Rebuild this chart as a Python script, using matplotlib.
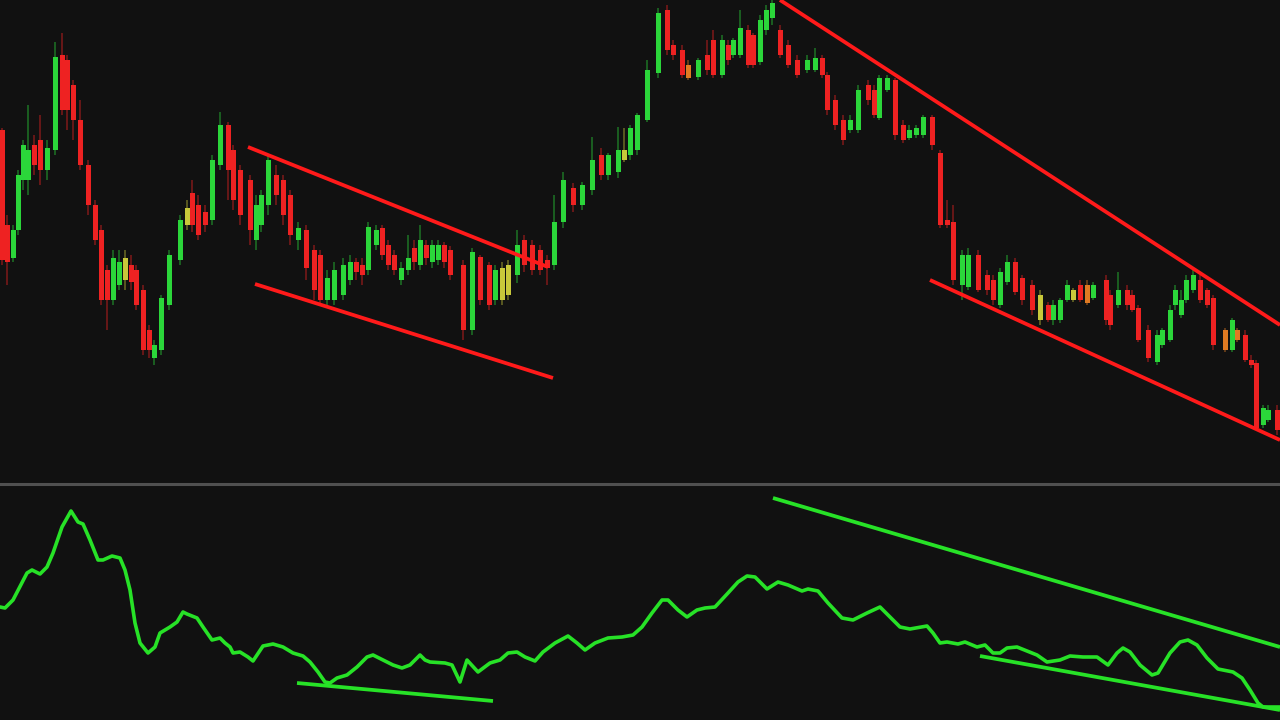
import numpy as np
import matplotlib
matplotlib.use("Agg")
import matplotlib.pyplot as plt

bar_time = [2, 7, 13, 18, 23, 28, 34, 40, 47, 55, 62, 67, 73, 80, 88, 95, 101, 107, 113, 119,
            125, 131, 136, 143, 149, 154, 161, 169, 180, 187, 192, 198, 205, 212, 220, 228, 233, 240, 250, 256,
            261, 268, 276, 283, 290, 298, 306, 314, 320, 327, 334, 343, 350, 356, 362, 368, 376, 382, 388, 394,
            401, 408, 414, 420, 426, 432, 438, 444, 450, 463, 472, 480, 489, 495, 502, 508, 517, 524, 532, 540,
            547, 554, 563, 573, 582, 592, 601, 608, 618, 624, 630, 637, 647, 658, 667, 673, 682, 688, 698, 707,
            713, 722, 728, 733, 740, 748, 753, 760, 766, 772, 780, 788, 797, 807, 815, 822, 827, 835, 843, 850,
            858, 868, 874, 879, 887, 895, 903, 909, 916, 923, 932, 940, 947, 953, 962, 968, 978, 987, 993, 1000,
            1007, 1015, 1022, 1032, 1040, 1048, 1053, 1060, 1067, 1073, 1080, 1087, 1093, 1106, 1110, 1118, 1127, 1132, 1138, 1148,
            1157, 1162, 1170, 1175, 1181, 1186, 1193, 1200, 1207, 1213, 1225, 1232, 1237, 1245, 1251, 1256, 1263, 1268, 1277]

lvl_open = [130, 225, 258, 230, 180, 180, 145, 140, 170, 150, 55, 60, 85, 120, 165, 205, 230, 270, 300, 285,
            280, 265, 270, 290, 330, 358, 350, 305, 260, 225, 193, 205, 212, 220, 165, 125, 150, 170, 180, 240,
            225, 205, 175, 180, 195, 240, 230, 250, 255, 300, 300, 295, 280, 262, 265, 270, 245, 228, 245, 255,
            280, 270, 248, 265, 245, 262, 260, 245, 250, 265, 330, 257, 265, 300, 300, 295, 275, 240, 245, 250,
            260, 265, 222, 188, 205, 190, 155, 175, 172, 160, 155, 150, 120, 73, 10, 45, 50, 65, 77, 55,
            40, 75, 45, 55, 55, 30, 35, 62, 30, 18, 30, 45, 60, 70, 70, 58, 75, 100, 120, 130,
            130, 85, 90, 118, 90, 80, 125, 138, 135, 135, 117, 153, 220, 222, 285, 287, 255, 275, 280, 305,
            282, 262, 278, 285, 320, 305, 320, 320, 300, 300, 285, 285, 298, 280, 295, 305, 290, 295, 308, 330,
            362, 345, 340, 305, 315, 300, 290, 280, 290, 298, 330, 350, 330, 335, 360, 363, 425, 420, 410]

lvl_close = [260, 262, 230, 175, 145, 150, 165, 170, 148, 57, 110, 110, 120, 165, 205, 240, 300, 300, 258, 262,
             258, 282, 305, 350, 350, 345, 298, 255, 220, 208, 225, 235, 225, 160, 125, 170, 200, 215, 230, 205,
             195, 160, 195, 215, 235, 228, 268, 290, 300, 278, 270, 265, 262, 272, 275, 227, 230, 255, 265, 270,
             268, 258, 262, 240, 258, 245, 245, 262, 275, 330, 252, 300, 305, 270, 268, 265, 245, 265, 270, 270,
             268, 222, 180, 205, 185, 160, 175, 155, 150, 150, 128, 115, 70, 13, 50, 55, 75, 78, 60, 70,
             75, 40, 60, 40, 28, 65, 65, 20, 10, 3, 55, 65, 75, 60, 58, 75, 110, 125, 140, 120,
             90, 100, 115, 78, 78, 135, 140, 130, 128, 117, 145, 225, 225, 280, 255, 255, 290, 290, 300, 272,
             262, 292, 300, 310, 295, 320, 305, 300, 285, 290, 300, 303, 285, 320, 325, 290, 305, 310, 340, 358,
             335, 330, 310, 290, 300, 280, 275, 300, 305, 345, 350, 320, 340, 360, 365, 428, 408, 410, 430]

lvl_high = [128, 215, 225, 170, 140, 105, 135, 115, 140, 42, 33, 55, 80, 100, 160, 200, 225, 265, 250, 250,
            250, 255, 265, 285, 325, 340, 295, 250, 215, 200, 180, 195, 205, 155, 112, 122, 145, 165, 175, 195,
            190, 155, 165, 175, 190, 222, 225, 245, 250, 270, 262, 258, 255, 258, 258, 222, 225, 225, 240, 250,
            262, 235, 240, 225, 240, 240, 240, 242, 246, 260, 248, 255, 262, 265, 262, 260, 230, 235, 240, 245,
            255, 195, 172, 183, 182, 137, 148, 153, 127, 128, 125, 113, 60, 8, 5, 40, 45, 60, 58, 40,
            30, 35, 40, 38, 10, 25, 33, 15, 5, 0, 25, 40, 55, 55, 48, 55, 72, 95, 115, 115,
            85, 80, 85, 75, 75, 78, 120, 125, 125, 115, 115, 150, 200, 205, 250, 248, 250, 270, 275, 268,
            255, 258, 275, 280, 290, 302, 300, 298, 280, 288, 280, 280, 282, 275, 290, 272, 285, 290, 305, 325,
            330, 328, 305, 285, 290, 275, 270, 275, 288, 295, 328, 318, 328, 330, 355, 360, 405, 405, 405]

lvl_low = [265, 285, 262, 235, 190, 195, 175, 185, 180, 155, 115, 130, 140, 170, 215, 245, 305, 330, 305, 290,
           290, 290, 310, 355, 358, 365, 355, 310, 265, 230, 232, 240, 232, 225, 170, 200, 210, 225, 245, 250,
           232, 215, 205, 225, 245, 250, 280, 300, 305, 305, 305, 300, 285, 280, 285, 275, 250, 260, 270, 275,
           285, 275, 270, 270, 265, 268, 265, 268, 280, 340, 335, 305, 310, 305, 305, 300, 283, 272, 275, 275,
           285, 270, 228, 212, 210, 195, 180, 180, 178, 162, 160, 155, 122, 78, 55, 60, 78, 80, 80, 75,
           78, 78, 65, 58, 58, 68, 68, 65, 35, 25, 58, 68, 78, 73, 72, 78, 115, 130, 145, 133,
           133, 105, 118, 120, 92, 140, 143, 140, 138, 138, 150, 228, 228, 285, 300, 290, 292, 295, 305, 308,
           285, 295, 305, 315, 325, 322, 325, 323, 302, 302, 302, 305, 300, 325, 330, 308, 310, 312, 342, 362,
           365, 348, 342, 310, 318, 303, 293, 303, 308, 350, 352, 352, 342, 362, 368, 430, 428, 422, 435]

# candles drawn in yellow / orange tones
yellow_bars = [20, 29, 74, 75, 89, 144, 149]
orange_bars = [97, 151, 170, 172]

# ---- indicator line (bottom panel) ----
ind_time = [0, 5, 13, 27, 32, 40, 47, 53, 62, 71, 78, 83, 90, 98, 103, 112, 120, 125, 130, 135,
            140, 148, 155, 160, 170, 177, 183, 187, 197, 203, 212, 220, 225, 230, 233, 240, 248, 253, 263, 273,
            283, 293, 303, 310, 318, 325, 330, 337, 347, 357, 367, 373, 383, 393, 402, 410, 417, 420, 425, 430,
            445, 452, 460, 467, 478, 490, 500, 508, 517, 525, 535, 543, 555, 568, 577, 585, 595, 608, 622, 633,
            642, 652, 662, 668, 678, 687, 697, 705, 715, 728, 738, 747, 755, 767, 778, 788, 802, 808, 818, 828,
            842, 853, 867, 880, 888, 900, 910, 927, 933, 940, 947, 958, 965, 977, 985, 993, 1000, 1007, 1017, 1027,
            1037, 1047, 1060, 1070, 1083, 1097, 1108, 1117, 1123, 1130, 1140, 1152, 1158, 1170, 1180, 1188, 1197, 1207, 1218, 1233,
            1242, 1250, 1258, 1263, 1272, 1280]
ind_lvl = [607, 608, 600, 573, 570, 574, 567, 553, 527, 511, 522, 524, 540, 560, 560, 556, 558, 570, 590, 623,
           643, 653, 647, 633, 627, 622, 612, 614, 618, 627, 640, 638, 643, 647, 653, 652, 657, 661, 646, 644,
           647, 653, 656, 662, 672, 682, 683, 678, 675, 667, 657, 655, 660, 665, 668, 665, 658, 655, 660, 662,
           663, 665, 682, 660, 672, 663, 660, 653, 652, 657, 661, 652, 643, 636, 643, 650, 643, 638, 637, 635,
           627, 613, 600, 600, 610, 617, 610, 608, 607, 593, 582, 576, 577, 589, 582, 585, 591, 589, 591, 603,
           618, 620, 613, 607, 615, 627, 629, 626, 633, 643, 642, 644, 642, 647, 645, 653, 653, 648, 647, 651,
           655, 662, 660, 656, 657, 657, 665, 653, 648, 652, 665, 675, 673, 653, 642, 640, 645, 658, 669, 672,
           678, 690, 703, 707, 707, 707]

# ---- trend lines ----
red_lines = [((248, 147), (548, 267)), ((255, 284), (553, 378)),
             ((780, 0), (1280, 325)), ((930, 280), (1280, 440))]
green_lines = [((297, 683), (493, 701)), ((773, 498), (1280, 647)), ((980, 656), (1280, 710))]

# convert measured levels to price / indicator values (higher = up)
TOP_REF = 484.0
BOT_REF = 720.0
t = np.array(bar_time, float)
o = TOP_REF - np.array(lvl_open, float)
c = TOP_REF - np.array(lvl_close, float)
h = TOP_REF - np.array(lvl_high, float)
l = TOP_REF - np.array(lvl_low, float)
ind_x = np.array(ind_time, float)
ind_y = BOT_REF - np.array(ind_lvl, float)

BG = "#111111"
GREEN = "#2bd63a"
RED = "#ee2222"
YELLOW = "#c8c83a"
ORANGE = "#e07a22"

fig = plt.figure(figsize=(12.8, 7.2), dpi=100, facecolor=BG)
ax = fig.add_axes([0, 1 - 482 / 720, 1, 482 / 720])
ax2 = fig.add_axes([0, 0, 1, 231 / 720])
for a in (ax, ax2):
    a.set_facecolor(BG)
    a.set_axis_off()

colors = []
for i in range(len(t)):
    if i in yellow_bars:
        colors.append(YELLOW)
    elif i in orange_bars:
        colors.append(ORANGE)
    elif c[i] >= o[i]:
        colors.append(GREEN)
    else:
        colors.append(RED)

ax.vlines(t, l, h, colors=colors, linewidth=1.1, alpha=0.5, zorder=2)
body_bottom = np.minimum(o, c)
body_h = np.maximum(np.abs(c - o), 2.0)
ax.bar(t, body_h, bottom=body_bottom, width=5.0, color=colors, linewidth=0, zorder=3)

for (x0, y0), (x1, y1) in red_lines:
    ax.plot([x0, x1], [TOP_REF - y0, TOP_REF - y1], color="#ff1a1a", linewidth=2.7,
            solid_capstyle="butt", zorder=4)

ax.set_xlim(0, 1280)
ax.set_ylim(TOP_REF - 482, TOP_REF)

ax2.plot(ind_x, ind_y, color="#27e227", linewidth=2.6, solid_joinstyle="round", zorder=3)
for (x0, y0), (x1, y1) in green_lines:
    ax2.plot([x0, x1], [BOT_REF - y0, BOT_REF - y1], color="#27e227", linewidth=2.7,
             solid_capstyle="butt", zorder=3)
ax2.set_xlim(0, 1280)
ax2.set_ylim(0, 231)

# separator between panels
fig.add_artist(plt.Line2D([0, 1], [1 - 484 / 720, 1 - 484 / 720], color="#505050", linewidth=2.2))

fig.savefig("out.png", dpi=100, facecolor=BG)
